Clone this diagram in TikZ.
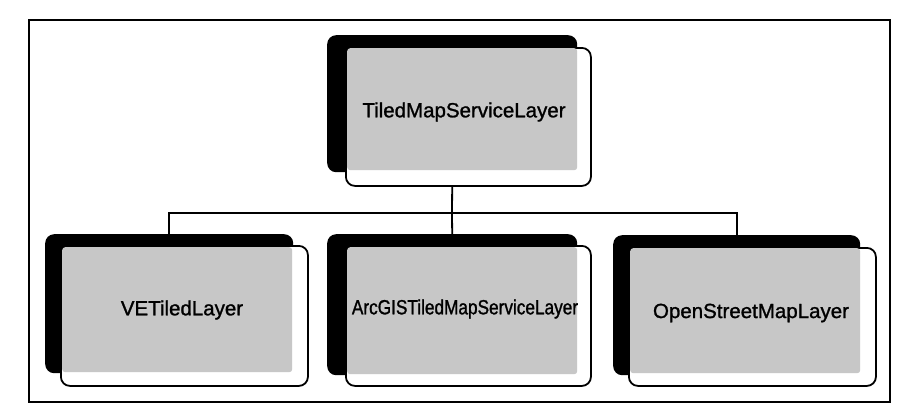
\documentclass[tikz,border=0pt]{standalone}
\usepackage{fontspec}
\setmainfont{Liberation Sans}
\newfontfamily\lblfont[FakeBold=1.2]{Liberation Sans}
\newfontfamily\lblnarrow[FakeStretch=0.84, FakeBold=1.2]{Liberation Sans}
\begin{document}
\begin{tikzpicture}[x=1pt,y=-1pt,
  shadowbox/.style={fill=black, rounded corners=9pt, inner sep=0pt, anchor=north west},
  frontbox/.style={fill=white, draw=black, line width=1.8pt, rounded corners=9pt, inner sep=0pt, anchor=north west},
  graybox/.style={fill=black!22, rounded corners=3pt, inner sep=0pt, anchor=north west},
  label/.style={font=\lblfont\fontsize{20.5}{24}\selectfont, inner sep=0pt, text=black},
  narrowlabel/.style={label, font=\lblnarrow\fontsize{20.5}{24}\selectfont},
  wire/.style={draw=black, line width=1.8pt},
  frame/.style={draw=black, line width=1.6pt}]
\useasboundingbox (0,0) rectangle (902,418);
\fill[white] (0,0) rectangle (902,418);
\draw[frame] (29,20) rectangle (890,402);
% top class
\node[shadowbox, minimum width=250pt, minimum height=137pt] (topS) at (327,35) {};
\node[frontbox, minimum width=245pt, minimum height=138pt] (topF) at (345,47) {};
\node[graybox, minimum width=230pt, minimum height=122pt] (topG) at (347,48) {};
\node[label] (topT) at (464,112) {TiledMapServiceLayer};
% child 1
\node[shadowbox, minimum width=248pt, minimum height=139pt] (aS) at (45,234) {};
\node[frontbox, minimum width=247pt, minimum height=140pt] (aF) at (60,245) {};
\node[graybox, minimum width=230pt, minimum height=125pt] (aG) at (62,247) {};
\node[label] (aT) at (182,310) {VETiledLayer};
% child 2
\node[shadowbox, minimum width=250pt, minimum height=141pt] (bS) at (327,234) {};
\node[frontbox, minimum width=245pt, minimum height=140pt] (bF) at (345,245) {};
\node[graybox, minimum width=230pt, minimum height=127pt] (bG) at (347,247) {};
\node[narrowlabel] (bT) at (465,309) {ArcGISTiledMapServiceLayer};
% child 3
\node[shadowbox, minimum width=247pt, minimum height=140pt] (cS) at (613,235) {};
\node[frontbox, minimum width=247pt, minimum height=138pt] (cF) at (628,247) {};
\node[graybox, minimum width=230pt, minimum height=125pt] (cG) at (630,248) {};
\node[label] (cT) at (751,313) {OpenStreetMapLayer};
% connectors
\coordinate (bus) at (452,213);
\draw[wire] (topS.center |- topF.south) -- (bus);
\draw[wire] (aS.north) -- (aS.north |- bus) -- (cS.north |- bus) -- (cS.north);
\draw[wire] (bus) -- (bS.north);
\end{tikzpicture}
\end{document}
